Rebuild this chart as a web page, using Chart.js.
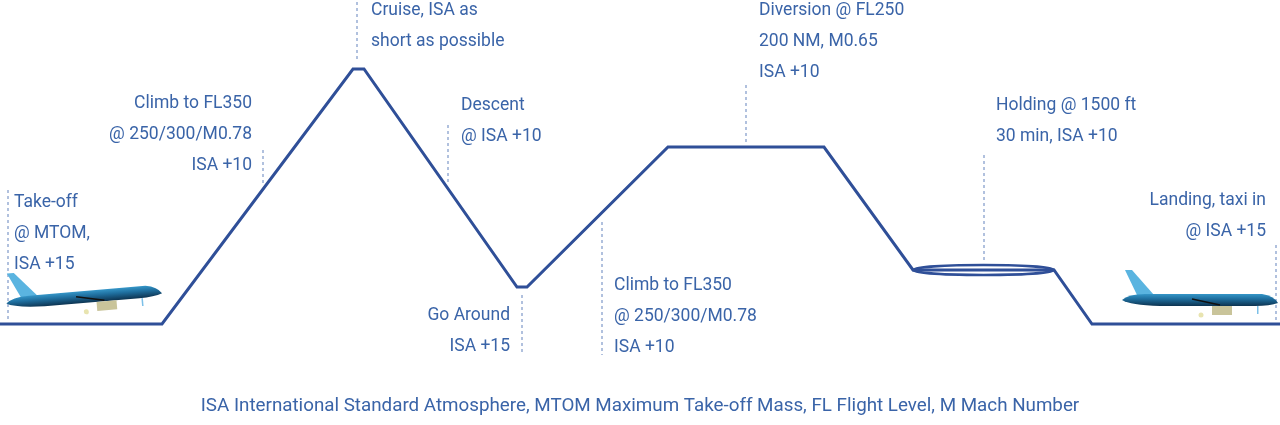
<!DOCTYPE html>
<html><head><meta charset="utf-8">
<script src="https://cdn.jsdelivr.net/npm/chart.js@4"></script>
<style>html,body{margin:0;padding:0;background:#fff}#w{width:1280px;height:425px}</style>
</head><body><div id="w"><canvas id="c"></canvas></div>
<script>
// Flight profile (distance units, altitude units in chart coordinates)
const profileX   = [0, 162, 353, 364, 517, 527, 668, 824, 913, 1054, 1092, 1280];
const profileAlt = [101, 101, 356, 356, 138, 138, 278, 278, 155, 155, 101, 101];
// Holding pattern
const holdCenter = [983.5, 155]; const holdRadius = [70.5, 5];
const labels = [
  {t:["Take-off","@ MTOM,","ISA +15"], x:14, y:231, a:"left"},
  {t:["Climb to FL350","@ 250/300/M0.78","ISA +10"], x:252, y:330, a:"right"},
  {t:["Cruise, ISA as","short as possible"], x:371, y:423, a:"left"},
  {t:["Descent","@ ISA +10"], x:461, y:328, a:"left"},
  {t:["Go Around","ISA +15"], x:510, y:118, a:"right"},
  {t:["Climb to FL350","@ 250/300/M0.78","ISA +10"], x:614, y:148, a:"left"},
  {t:["Diversion @ FL250","200 NM, M0.65","ISA +10"], x:759, y:423, a:"left"},
  {t:["Holding @ 1500 ft","30 min, ISA +10"], x:996, y:328, a:"left"},
  {t:["Landing, taxi in","@ ISA +15"], x:1266, y:233, a:"right"}
];
const guides = [[8,235,103],[263,275,240],[357,423,365],[448,300,240],[522,130,70],[602,203,70],[746,340,280],[984,270,163],[1276,180,103]];
const footnote = "ISA International Standard Atmosphere, MTOM Maximum Take-off Mass, FL Flight Level, M Mach Number";
const planes = [{x:84,y:296,rot:-0.085},{x:1200,y:299,rot:0}];

const BLUE = "#2f4f98", TXT = "#3a64a8";
function drawPlane(ctx,p){
  ctx.save(); ctx.translate(p.x,p.y); ctx.rotate(p.rot);
  ctx.fillStyle="#5ab4e0"; ctx.beginPath(); ctx.moveTo(-75,-29); ctx.lineTo(-68,-29); ctx.lineTo(-46,-4); ctx.lineTo(-63,-4); ctx.closePath(); ctx.fill();
  const g=ctx.createLinearGradient(0,-6,0,7); g.addColorStop(0,"#3a9ed0"); g.addColorStop(0.45,"#1f6f9f"); g.addColorStop(1,"#0d3350");
  ctx.fillStyle=g; ctx.beginPath(); ctx.moveTo(-78,1); ctx.quadraticCurveTo(-72,-5,-55,-5); ctx.lineTo(62,-5); ctx.quadraticCurveTo(74,-3,78,4); ctx.quadraticCurveTo(70,7,55,7); ctx.lineTo(-40,7); ctx.quadraticCurveTo(-70,6,-78,1); ctx.fill();
  ctx.strokeStyle="#111"; ctx.lineWidth=1.5; ctx.beginPath(); ctx.moveTo(-8,0); ctx.lineTo(20,6); ctx.stroke();
  ctx.fillStyle="#c9c49a"; ctx.fillRect(12,7,20,9);
  ctx.fillStyle="#e8e4b0"; ctx.beginPath(); ctx.arc(1,16,2.5,0,7); ctx.fill();
  ctx.fillStyle="#7cc0e8"; ctx.fillRect(57,7,1.5,8);
  ctx.restore();
}
const overlay = {id:"overlay", afterDatasetsDraw(chart){
  const {ctx, scales:{x,y}} = chart;
  ctx.save();
  ctx.strokeStyle=BLUE; ctx.lineWidth=2.5;
  ctx.beginPath(); ctx.ellipse(x.getPixelForValue(holdCenter[0]), y.getPixelForValue(holdCenter[1]),
    Math.abs(x.getPixelForValue(holdCenter[0]+holdRadius[0])-x.getPixelForValue(holdCenter[0])),
    Math.abs(y.getPixelForValue(holdCenter[1]-holdRadius[1])-y.getPixelForValue(holdCenter[1])),0,0,Math.PI*2); ctx.stroke();
  ctx.strokeStyle="#7f98c8"; ctx.lineWidth=1.2; ctx.setLineDash([3,3]);
  guides.forEach(g=>{const px=x.getPixelForValue(g[0]); ctx.beginPath(); ctx.moveTo(px,y.getPixelForValue(g[1])); ctx.lineTo(px,y.getPixelForValue(g[2])); ctx.stroke();});
  ctx.setLineDash([]);
  ctx.fillStyle=TXT; ctx.font="17.5px Roboto"; ctx.textBaseline="top";
  labels.forEach(l=>{ctx.textAlign=l.a; l.t.forEach((s,i)=>ctx.fillText(s,x.getPixelForValue(l.x),y.getPixelForValue(l.y)+i*31));});
  ctx.textAlign="center"; ctx.font="18.8px Roboto";
  ctx.fillText(footnote, x.getPixelForValue(640), y.getPixelForValue(28));
  planes.forEach(p=>drawPlane(ctx,{x:x.getPixelForValue(p.x),y:y.getPixelForValue(425-p.y),rot:p.rot}));
  ctx.restore();
}};
new Chart(document.getElementById("c"),{
  type:"line",
  data:{datasets:[{data:profileX.map((v,i)=>({x:v,y:profileAlt[i]})),borderColor:BLUE,borderWidth:3,pointRadius:0,tension:0,fill:false,borderJoinStyle:"miter"}]},
  options:{responsive:true,maintainAspectRatio:false,animation:false,layout:{padding:0},
    plugins:{legend:{display:false},tooltip:{enabled:false}},
    scales:{x:{type:"linear",min:0,max:1280,display:false},y:{min:0,max:425,display:false}}},
  plugins:[overlay]
});
</script></body></html>
